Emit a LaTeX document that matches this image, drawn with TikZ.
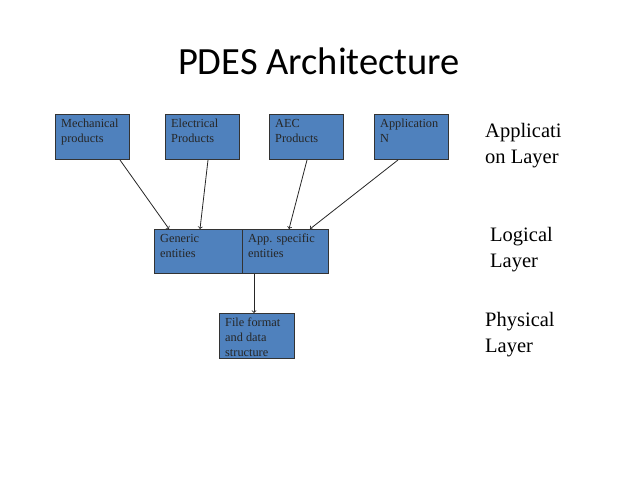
\documentclass[tikz,border=0pt]{standalone}
\usepackage{fontspec}
\usetikzlibrary{calc}
\setmainfont{Liberation Serif}
\newfontfamily\titlefont{Carlito}
\begin{document}
\begin{tikzpicture}[x=1pt,y=-1pt,
  box/.style={draw=black!80,fill={rgb,255:red,79;green,129;blue,189},line width=1pt,anchor=north west,inner sep=0pt},
  txt/.style={anchor=north west,align=left,inner sep=0pt,font=\fontsize{12.3}{15}\selectfont,text=black!85},
  arr/.style={->,line width=0.8pt,black!85},
  lay/.style={anchor=north west,align=left,inner sep=0pt,font=\fontsize{20.5}{26}\selectfont}]
\useasboundingbox (0,0) rectangle (638,478);
\node[anchor=center,font=\titlefont\fontsize{38.5}{40}\selectfont] (title) at (319,61) {PDES Architecture};
\node[box,minimum width=74,minimum height=45] (b1) at (55,114) {};
\node[box,minimum width=74,minimum height=45] (b2) at (165,114) {};
\node[box,minimum width=74,minimum height=45] (b3) at (269,114) {};
\node[box,minimum width=74,minimum height=45] (b4) at (374,114) {};
\node[box,minimum width=88,minimum height=44] (g) at (154,229) {};
\node[box,minimum width=86,minimum height=44] (a) at (242,229) {};
\node[box,minimum width=75,minimum height=45] (f) at (219,313) {};
\node[txt] (t1) at (61,119) {Mechanical\\products};
\node[txt] (t2) at (171,119) {Electrical\\Products};
\node[txt] (t3) at (275,119) {AEC\\Products};
\node[txt] (t4) at (380,119) {Application\\N};
\node[txt] (tg) at (160,234) {Generic\\entities};
\node[txt] (ta) at (248,234) {App. specific\\entities};
\begin{scope}
\clip (219,313) rectangle (294,358);
\node[txt] (tf) at (225,318) {File format\\and data\\structure};
\end{scope}
\draw[arr] ($(b1.south west)+(65,0)$) -- ($(g.north west)+(15,0)$);
\draw[arr] ($(b2.south west)+(43,0)$) -- ($(g.north west)+(46,0)$);
\draw[arr] ($(b3.south west)+(38,0)$) -- ($(a.north west)+(47,0)$);
\draw[arr] ($(b4.south west)+(24,0)$) -- ($(a.north west)+(68,0)$);
\draw[arr] ($(a.south west)+(12,0)$) -- ($(f.north west)+(35,0)$);
\node[lay] (l1) at (485,123) {Applicati\\on Layer};
\node[lay] (l2) at (490,227) {Logical\\Layer};
\node[lay] (l3) at (485,312) {Physical\\Layer};
\end{tikzpicture}
\end{document}
